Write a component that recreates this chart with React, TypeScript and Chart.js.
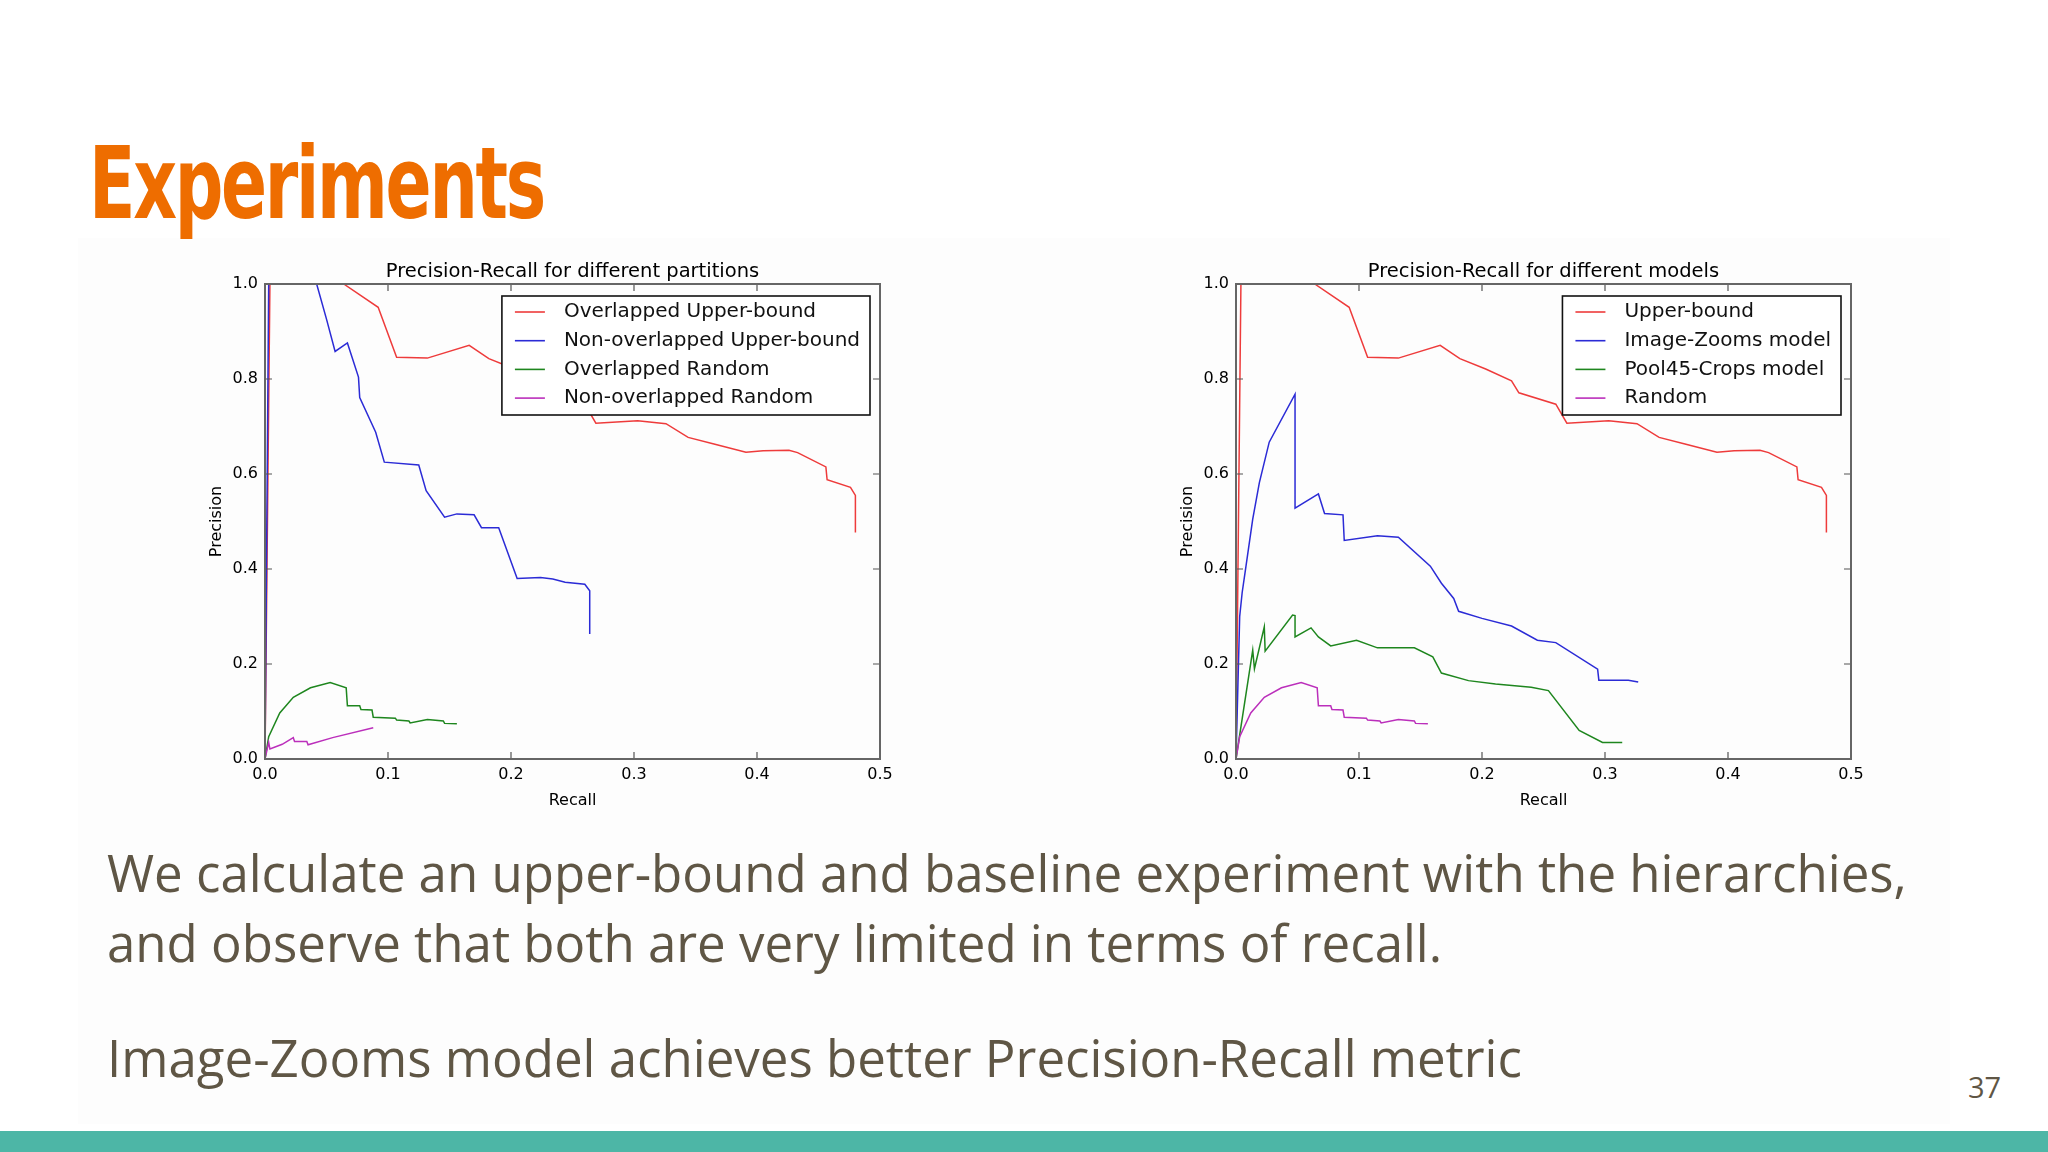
import { useEffect, useRef } from 'react';
import { Chart, registerables } from 'chart.js';

Chart.register(...registerables);

// --- data (recall on x, precision on y) ---
const upperBoundRecall = [0, 0.004, 0.064, 0.092, 0.107, 0.132, 0.166, 0.182, 0.203, 0.224, 0.230, 0.260, 0.269, 0.303, 0.326, 0.344, 0.365, 0.391, 0.405, 0.426, 0.433, 0.456, 0.457, 0.476, 0.480, 0.480];
const upperBoundPrecision = [0, 1.0, 1.0, 0.951, 0.846, 0.844, 0.871, 0.843, 0.821, 0.796, 0.771, 0.747, 0.707, 0.712, 0.706, 0.677, 0.663, 0.646, 0.649, 0.650, 0.645, 0.615, 0.588, 0.572, 0.555, 0.477];

const nonOverlapUpperRecall = [0, 0.003, 0.042, 0.050, 0.057, 0.067, 0.076, 0.077, 0.090, 0.097, 0.125, 0.131, 0.146, 0.156, 0.170, 0.176, 0.190, 0.205, 0.224, 0.234, 0.244, 0.260, 0.264, 0.264];
const nonOverlapUpperPrecision = [0, 1.0, 1.0, 0.926, 0.858, 0.876, 0.804, 0.761, 0.688, 0.625, 0.619, 0.565, 0.509, 0.516, 0.514, 0.487, 0.487, 0.380, 0.382, 0.379, 0.372, 0.368, 0.354, 0.263];

const randomRecall = [0, 0.003, 0.012, 0.023, 0.037, 0.053, 0.066, 0.067, 0.077, 0.078, 0.087, 0.088, 0.106, 0.107, 0.117, 0.118, 0.132, 0.145, 0.146, 0.156];
const randomPrecision = [0, 0.047, 0.097, 0.130, 0.150, 0.161, 0.150, 0.112, 0.112, 0.104, 0.103, 0.088, 0.086, 0.082, 0.080, 0.076, 0.083, 0.080, 0.075, 0.074];

const nonOverlapRandomRecall = [0, 0.003, 0.004, 0.014, 0.023, 0.024, 0.034, 0.035, 0.055, 0.088];
const nonOverlapRandomPrecision = [0, 0.035, 0.021, 0.031, 0.045, 0.037, 0.037, 0.030, 0.045, 0.066];

const imageZoomsRecall = [0, 0.003, 0.005, 0.008, 0.0136, 0.019, 0.027, 0.048, 0.048, 0.067, 0.072, 0.087, 0.088, 0.115, 0.132, 0.158, 0.167, 0.177, 0.181, 0.200, 0.224, 0.245, 0.260, 0.294, 0.295, 0.319, 0.327];
const imageZoomsPrecision = [0, 0.30, 0.35, 0.404, 0.505, 0.582, 0.667, 0.768, 0.528, 0.558, 0.517, 0.514, 0.460, 0.470, 0.467, 0.406, 0.370, 0.338, 0.311, 0.296, 0.280, 0.250, 0.245, 0.189, 0.166, 0.166, 0.162];

const pool45Recall = [0, 0.0136, 0.015, 0.023, 0.0237, 0.046, 0.048, 0.048, 0.061, 0.067, 0.077, 0.098, 0.115, 0.145, 0.160, 0.167, 0.189, 0.211, 0.240, 0.254, 0.279, 0.298, 0.314];
const pool45Precision = [0, 0.229, 0.19, 0.278, 0.227, 0.303, 0.302, 0.257, 0.276, 0.257, 0.238, 0.250, 0.234, 0.234, 0.215, 0.181, 0.165, 0.158, 0.151, 0.144, 0.060, 0.035, 0.035];

const partitionLabels = ['Overlapped Upper-bound', 'Non-overlapped Upper-bound', 'Overlapped Random', 'Non-overlapped Random'];
const modelLabels = ['Upper-bound', 'Image-Zooms model', 'Pool45-Crops model', 'Random'];
const lineColors = ['#ee3b3b', '#2b2bd6', '#1e861e', '#bb2fbb'];

const FONT = "'DejaVu Sans', sans-serif";
Chart.defaults.font.family = FONT;
Chart.defaults.color = '#000';

type Series = { label: string; color: string; recall: number[]; precision: number[] };

const partitionSeries: Series[] = [
  { label: partitionLabels[0], color: lineColors[0], recall: upperBoundRecall, precision: upperBoundPrecision },
  { label: partitionLabels[1], color: lineColors[1], recall: nonOverlapUpperRecall, precision: nonOverlapUpperPrecision },
  { label: partitionLabels[2], color: lineColors[2], recall: randomRecall, precision: randomPrecision },
  { label: partitionLabels[3], color: lineColors[3], recall: nonOverlapRandomRecall, precision: nonOverlapRandomPrecision },
];

const modelSeries: Series[] = [
  { label: modelLabels[0], color: lineColors[0], recall: upperBoundRecall, precision: upperBoundPrecision },
  { label: modelLabels[1], color: lineColors[1], recall: imageZoomsRecall, precision: imageZoomsPrecision },
  { label: modelLabels[2], color: lineColors[2], recall: pool45Recall, precision: pool45Precision },
  { label: modelLabels[3], color: lineColors[3], recall: randomRecall, precision: randomPrecision },
];

// frame around the plot + inward ticks on all four sides (matplotlib classic look)
const frameTicks = {
  id: 'frameTicks',
  afterDatasetsDraw(chart: any) {
    const { ctx, chartArea: a, scales } = chart;
    ctx.save();
    ctx.strokeStyle = '#555';
    ctx.lineWidth = 1.2;
    ctx.beginPath();
    scales.x.ticks.forEach((t: any) => {
      const px = scales.x.getPixelForValue(t.value);
      ctx.moveTo(px, a.bottom); ctx.lineTo(px, a.bottom - 7);
      ctx.moveTo(px, a.top); ctx.lineTo(px, a.top + 7);
    });
    scales.y.ticks.forEach((t: any) => {
      const py = scales.y.getPixelForValue(t.value);
      ctx.moveTo(a.left, py); ctx.lineTo(a.left + 7, py);
      ctx.moveTo(a.right, py); ctx.lineTo(a.right - 7, py);
    });
    ctx.stroke();
    ctx.strokeStyle = '#666';
    ctx.lineWidth = 2;
    ctx.strokeRect(a.left, a.top, a.right - a.left, a.bottom - a.top);
    ctx.restore();
  },
};

const boxLegend = (labels: string[], colors: string[]) => ({
  id: 'boxLegend',
  afterDraw(chart: any) {
    const { ctx, chartArea } = chart;
    ctx.save();
    ctx.font = `20px ${FONT}`;
    const textW = Math.max(...labels.map((l) => ctx.measureText(l).width));
    const w = 62 + textW + 10;
    const h = 119;
    const x = chartArea.right - 10 - w;
    const y = chartArea.top + 12;
    ctx.fillStyle = '#fff';
    ctx.fillRect(x, y, w, h);
    ctx.strokeStyle = '#111';
    ctx.lineWidth = 1.6;
    ctx.strokeRect(x, y, w, h);
    labels.forEach((l, i) => {
      const cy = y + 16 + i * 28.7;
      ctx.strokeStyle = colors[i];
      ctx.lineWidth = 1.6;
      ctx.beginPath();
      ctx.moveTo(x + 13, cy);
      ctx.lineTo(x + 43, cy);
      ctx.stroke();
      ctx.fillStyle = '#111';
      ctx.textBaseline = 'middle';
      ctx.fillText(l, x + 62, cy);
    });
    ctx.restore();
  },
});

function PRChart({ title, series, left }: { title: string; series: Series[]; left: number }) {
  const chartRef = useRef<HTMLCanvasElement>(null);

  useEffect(() => {
    if (!chartRef.current) return;
    const chart = new Chart(chartRef.current, {
      type: 'line',
      data: {
        datasets: series.map((s, i) => ({
          label: s.label,
          data: s.recall.map((r, j) => ({ x: r, y: s.precision[j] })),
          borderColor: s.color,
          borderWidth: 1.5,
          pointRadius: 0,
          fill: false,
          tension: 0,
          order: series.length - i, // later series on top, like matplotlib
        })),
      },
      options: {
        animation: false,
        responsive: true,
        maintainAspectRatio: false,
        layout: { padding: { left: 0, right: 20, top: 0, bottom: 0 } },
        plugins: {
          legend: { display: false },
          tooltip: { enabled: false },
          title: {
            display: true,
            text: title,
            fullSize: false,
            color: '#000',
            font: { size: 19.5, weight: 'normal' },
            padding: { top: 12.6, bottom: 0 },
          },
        },
        scales: {
          x: {
            type: 'linear',
            min: 0,
            max: 0.5,
            ticks: { stepSize: 0.1, padding: 6, maxRotation: 0, font: { size: 16 }, callback: (v: any) => Number(v).toFixed(1) },
            grid: { display: false, drawTicks: false },
            border: { display: false },
            title: { display: true, text: 'Recall', font: { size: 16 }, padding: { top: 0, bottom: 3.6 } },
            afterFit: (s: any) => { s.height = 55; },
          },
          y: {
            type: 'linear',
            min: 0,
            max: 1,
            ticks: { stepSize: 0.2, padding: 7, font: { size: 16 }, callback: (v: any) => Number(v).toFixed(1) },
            grid: { display: false, drawTicks: false },
            border: { display: false },
            title: { display: true, text: 'Precision', font: { size: 16 }, padding: { top: 12.4, bottom: 0 } },
            afterFit: (s: any) => { s.width = 70; },
          },
        },
      },
      plugins: [frameTicks, boxLegend(series.map((s) => s.label), series.map((s) => s.color))],
    });
    return () => chart.destroy();
  }, [title, series]);

  return (
    <div style={{ position: 'absolute', left, top: 248, width: 705, height: 566 }}>
      <canvas ref={chartRef}></canvas>
    </div>
  );
}

const bodyText: React.CSSProperties = {
  position: 'absolute',
  left: 107,
  fontFamily: "'Open Sans', sans-serif",
  fontSize: 51,
  lineHeight: '51px',
  color: '#5f5645',
  whiteSpace: 'nowrap',
};

export default function App() {
  return (
    <div style={{ position: 'fixed', left: 0, top: 0, width: 2048, height: 1152, background: '#fff', overflow: 'hidden' }}>
      <div style={{ position: 'absolute', left: 78, top: 238, width: 1872, height: 886, background: '#fdfdfd' }} />
      <div
        style={{
          position: 'absolute',
          left: 89,
          top: 134,
          fontFamily: "'Liberation Sans Narrow', 'DejaVu Sans Condensed', sans-serif",
          fontWeight: 'bold',
          fontSize: 100,
          lineHeight: '100px',
          letterSpacing: -3,
          color: '#ee6d00',
          whiteSpace: 'nowrap',
          transform: 'scaleX(0.755)',
          transformOrigin: 'left top',
        }}
      >
        Experiments
      </div>
      <PRChart title="Precision-Recall for different partitions" series={partitionSeries} left={195} />
      <PRChart title="Precision-Recall for different models" series={modelSeries} left={1166} />
      <div style={{ ...bodyText, top: 847 }}>We calculate an upper-bound and baseline experiment with the hierarchies,</div>
      <div style={{ ...bodyText, top: 917 }}>and observe that both are very limited in terms of recall.</div>
      <div style={{ ...bodyText, top: 1032 }}>Image-Zooms model achieves better Precision-Recall metric</div>
      <div
        style={{
          position: 'absolute',
          left: 1968,
          top: 1072,
          fontFamily: "'Open Sans', sans-serif",
          fontSize: 29,
          lineHeight: '29px',
          color: '#5f5645',
        }}
      >
        37
      </div>
      <div style={{ position: 'absolute', left: 0, top: 1131, width: 2048, height: 21, background: '#4db6a6' }} />
    </div>
  );
}
